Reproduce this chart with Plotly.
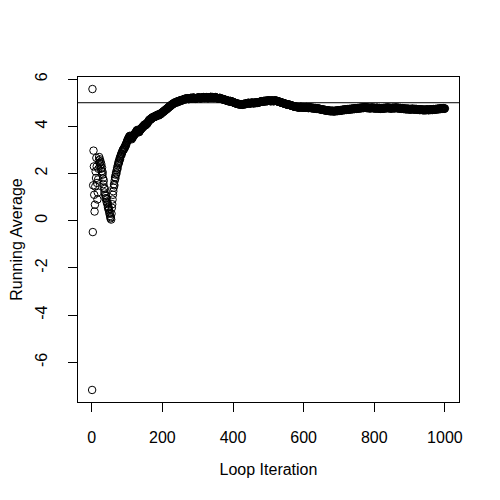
import plotly.graph_objects as go

running_avg = [
    -7.17, 5.58, -0.48, 1.50, 2.97, 2.30, 1.10, 0.39, 0.68, 1.45, 2.09, 1.81, 2.66, 2.30, 1.60, 0.90, 1.20, 1.75, 2.20, 2.55,
    2.70, 2.45, 2.60, 2.35, 2.50, 2.20, 2.40, 2.10, 2.25, 1.95, 2.05, 1.80, 1.55, 1.70, 1.40, 1.20, 1.35, 1.10, 0.95, 1.05,
    0.95, 0.80, 0.90, 0.70, 0.75, 0.55, 0.60, 0.45, 0.50, 0.30, 0.35, 0.20, 0.10, 0.15, 0.05, 0.30, 0.55, 0.70, 0.90, 1.10,
    1.25, 1.40, 1.55, 1.50, 1.70, 1.85, 1.80, 1.95, 2.05, 2.00, 2.15, 2.25, 2.20, 2.35, 2.40, 2.50, 2.45, 2.55, 2.65, 2.60,
    2.70, 2.75, 2.80, 2.85, 2.82, 2.90, 2.95, 3.00, 2.98, 3.05, 3.02, 3.08, 3.12, 3.10, 3.18, 3.22, 3.20, 3.28, 3.32, 3.35,
    3.40, 3.45, 3.42, 3.50, 3.52, 3.57, 3.55, 3.60, 3.58, 3.52, 3.48, 3.50, 3.45, 3.50, 3.55, 3.52, 3.58, 3.62, 3.60, 3.66,
    3.64, 3.70, 3.68, 3.74, 3.72, 3.78, 3.82, 3.80, 3.85, 3.83, 3.80, 3.76, 3.79, 3.75, 3.78, 3.82, 3.86, 3.84, 3.90, 3.88,
    3.92, 3.95, 3.93, 3.98, 4.00, 3.97, 4.02, 4.05, 4.03, 4.08, 4.06, 4.04, 4.09, 4.07, 4.12, 4.10, 4.15, 4.13, 4.18, 4.20,
    4.22, 4.25, 4.28, 4.26, 4.30, 4.28, 4.32, 4.30, 4.34, 4.36, 4.34, 4.38, 4.37, 4.40, 4.38, 4.41, 4.39, 4.42, 4.40, 4.43,
    4.42, 4.45, 4.44, 4.47, 4.46, 4.49, 4.47, 4.50, 4.48, 4.46, 4.49, 4.52, 4.50, 4.53, 4.51, 4.55, 4.54, 4.57, 4.59, 4.58,
    4.60, 4.62, 4.61, 4.64, 4.66, 4.65, 4.68, 4.67, 4.70, 4.72, 4.71, 4.74, 4.73, 4.76, 4.78, 4.77, 4.80, 4.82, 4.81, 4.84,
    4.86, 4.85, 4.88, 4.87, 4.90, 4.92, 4.91, 4.94, 4.93, 4.95, 4.97, 4.96, 4.99, 4.98, 5.00, 5.02, 5.01, 4.99, 5.01, 5.03,
    5.05, 5.04, 5.06, 5.05, 5.03, 5.05, 5.07, 5.06, 5.08, 5.10, 5.09, 5.11, 5.10, 5.08, 5.10, 5.12, 5.11, 5.13, 5.12, 5.14,
    5.15, 5.13, 5.15, 5.17, 5.16, 5.18, 5.17, 5.15, 5.16, 5.18, 5.17, 5.19, 5.18, 5.16, 5.15, 5.17, 5.19, 5.18, 5.20, 5.19,
    5.21, 5.20, 5.18, 5.17, 5.19, 5.21, 5.20, 5.22, 5.21, 5.19, 5.18, 5.20, 5.19, 5.17, 5.16, 5.18, 5.20, 5.19, 5.21, 5.20,
    5.22, 5.21, 5.23, 5.22, 5.20, 5.19, 5.21, 5.20, 5.18, 5.19, 5.21, 5.22, 5.21, 5.23, 5.22, 5.24, 5.23, 5.21, 5.20, 5.22,
    5.21, 5.23, 5.22, 5.24, 5.23, 5.21, 5.22, 5.20, 5.19, 5.21, 5.20, 5.22, 5.21, 5.23, 5.22, 5.24, 5.25, 5.24, 5.22, 5.23,
    5.22, 5.24, 5.23, 5.21, 5.22, 5.20, 5.21, 5.23, 5.22, 5.24, 5.23, 5.22, 5.20, 5.21, 5.19, 5.20, 5.18, 5.19, 5.17, 5.18,
    5.19, 5.20, 5.21, 5.19, 5.18, 5.16, 5.17, 5.15, 5.16, 5.14, 5.15, 5.16, 5.14, 5.13, 5.14, 5.12, 5.13, 5.11, 5.12, 5.10,
    5.11, 5.09, 5.10, 5.08, 5.09, 5.07, 5.08, 5.06, 5.07, 5.05, 5.06, 5.08, 5.07, 5.05, 5.04, 5.06, 5.05, 5.03, 5.04, 5.02,
    5.03, 5.01, 5.00, 4.99, 5.00, 4.98, 4.99, 4.97, 4.98, 4.96, 4.97, 4.95, 4.96, 4.94, 4.95, 4.93, 4.94, 4.95, 4.93, 4.94,
    4.92, 4.93, 4.94, 4.92, 4.93, 4.91, 4.92, 4.94, 4.93, 4.95, 4.94, 4.96, 4.95, 4.93, 4.94, 4.96, 4.95, 4.97, 4.96, 4.98,
    4.97, 4.99, 4.98, 5.00, 4.99, 4.97, 4.98, 4.96, 4.97, 4.99, 4.98, 5.00, 4.99, 5.01, 5.00, 4.98, 4.99, 4.97, 4.98, 5.00,
    4.99, 5.01, 5.00, 4.98, 4.99, 5.01, 5.00, 5.02, 5.01, 4.99, 5.00, 5.02, 5.01, 5.03, 5.02, 5.04, 5.03, 5.05, 5.04, 5.06,
    5.05, 5.07, 5.06, 5.04, 5.05, 5.07, 5.06, 5.08, 5.07, 5.05, 5.06, 5.08, 5.07, 5.09, 5.08, 5.06, 5.07, 5.09, 5.08, 5.10,
    5.09, 5.08, 5.10, 5.09, 5.07, 5.08, 5.06, 5.07, 5.09, 5.08, 5.10, 5.09, 5.07, 5.08, 5.06, 5.07, 5.09, 5.08, 5.10, 5.09,
    5.08, 5.09, 5.07, 5.08, 5.06, 5.07, 5.05, 5.06, 5.04, 5.05, 5.03, 5.04, 5.02, 5.03, 5.01, 5.02, 5.00, 5.01, 4.99, 5.00,
    4.98, 4.99, 4.97, 4.98, 4.96, 4.97, 4.95, 4.96, 4.94, 4.95, 4.93, 4.94, 4.92, 4.93, 4.91, 4.92, 4.93, 4.91, 4.92, 4.90,
    4.91, 4.89, 4.90, 4.88, 4.89, 4.87, 4.88, 4.86, 4.87, 4.85, 4.86, 4.84, 4.85, 4.83, 4.84, 4.82, 4.83, 4.84, 4.82, 4.83,
    4.81, 4.82, 4.80, 4.81, 4.82, 4.80, 4.81, 4.79, 4.80, 4.82, 4.81, 4.83, 4.82, 4.80, 4.81, 4.79, 4.80, 4.82, 4.81, 4.80,
    4.81, 4.79, 4.80, 4.78, 4.79, 4.81, 4.80, 4.82, 4.81, 4.79, 4.80, 4.78, 4.79, 4.77, 4.78, 4.80, 4.79, 4.81, 4.80, 4.78,
    4.79, 4.77, 4.78, 4.76, 4.77, 4.79, 4.78, 4.76, 4.77, 4.75, 4.76, 4.78, 4.77, 4.75, 4.76, 4.74, 4.75, 4.77, 4.76, 4.74,
    4.75, 4.73, 4.74, 4.75, 4.73, 4.74, 4.72, 4.73, 4.71, 4.72, 4.70, 4.71, 4.72, 4.70, 4.71, 4.69, 4.70, 4.68, 4.69, 4.70,
    4.68, 4.69, 4.67, 4.68, 4.66, 4.67, 4.68, 4.66, 4.67, 4.65, 4.66, 4.67, 4.65, 4.66, 4.64, 4.65, 4.66, 4.64, 4.65, 4.66,
    4.64, 4.65, 4.66, 4.64, 4.65, 4.63, 4.64, 4.65, 4.66, 4.64, 4.65, 4.67, 4.66, 4.64, 4.65, 4.67, 4.66, 4.68, 4.67, 4.65,
    4.66, 4.68, 4.67, 4.69, 4.68, 4.66, 4.67, 4.69, 4.68, 4.70, 4.69, 4.71, 4.70, 4.68, 4.69, 4.71, 4.70, 4.72, 4.71, 4.69,
    4.70, 4.72, 4.71, 4.73, 4.72, 4.70, 4.71, 4.73, 4.72, 4.74, 4.73, 4.71, 4.72, 4.74, 4.73, 4.75, 4.74, 4.72, 4.73, 4.75,
    4.74, 4.76, 4.75, 4.73, 4.74, 4.76, 4.75, 4.77, 4.76, 4.74, 4.75, 4.77, 4.76, 4.78, 4.77, 4.75, 4.76, 4.78, 4.77, 4.79,
    4.78, 4.76, 4.77, 4.79, 4.78, 4.80, 4.79, 4.77, 4.78, 4.80, 4.79, 4.81, 4.80, 4.78, 4.79, 4.81, 4.80, 4.78, 4.79, 4.77,
    4.78, 4.80, 4.79, 4.77, 4.78, 4.76, 4.77, 4.79, 4.78, 4.76, 4.77, 4.79, 4.78, 4.80, 4.79, 4.77, 4.78, 4.76, 4.77, 4.79,
    4.78, 4.76, 4.77, 4.75, 4.76, 4.78, 4.77, 4.79, 4.78, 4.76, 4.77, 4.75, 4.76, 4.78, 4.77, 4.75, 4.76, 4.74, 4.75, 4.77,
    4.76, 4.74, 4.75, 4.77, 4.76, 4.78, 4.77, 4.75, 4.76, 4.78, 4.77, 4.79, 4.78, 4.76, 4.77, 4.79, 4.78, 4.80, 4.79, 4.77,
    4.78, 4.76, 4.77, 4.79, 4.78, 4.76, 4.77, 4.75, 4.76, 4.78, 4.77, 4.79, 4.78, 4.76, 4.77, 4.79, 4.78, 4.76, 4.77, 4.79,
    4.78, 4.80, 4.79, 4.77, 4.78, 4.76, 4.77, 4.79, 4.78, 4.76, 4.77, 4.75, 4.76, 4.78, 4.77, 4.75, 4.76, 4.74, 4.75, 4.77,
    4.76, 4.74, 4.75, 4.73, 4.74, 4.76, 4.75, 4.73, 4.74, 4.72, 4.73, 4.75, 4.74, 4.72, 4.73, 4.75, 4.74, 4.72, 4.73, 4.71,
    4.72, 4.74, 4.73, 4.71, 4.72, 4.74, 4.73, 4.75, 4.74, 4.72, 4.73, 4.71, 4.72, 4.74, 4.73, 4.71, 4.72, 4.74, 4.73, 4.71,
    4.72, 4.70, 4.71, 4.73, 4.72, 4.70, 4.71, 4.69, 4.70, 4.72, 4.71, 4.69, 4.70, 4.72, 4.71, 4.69, 4.70, 4.68, 4.69, 4.71,
    4.70, 4.68, 4.69, 4.71, 4.70, 4.68, 4.69, 4.71, 4.70, 4.72, 4.71, 4.69, 4.70, 4.68, 4.69, 4.71, 4.70, 4.72, 4.71, 4.69,
    4.70, 4.72, 4.71, 4.69, 4.70, 4.72, 4.71, 4.73, 4.72, 4.70, 4.71, 4.73, 4.72, 4.74, 4.73, 4.71, 4.72, 4.74, 4.73, 4.75,
    4.74, 4.72, 4.73, 4.75, 4.74, 4.76, 4.75, 4.73, 4.74, 4.76, 4.75, 4.77, 4.76, 4.74, 4.75, 4.77, 4.76, 4.74, 4.75, 4.76,
]
iterations = list(range(1, len(running_avg) + 1))
target_value = 5
x_ticks = [0, 200, 400, 600, 800, 1000]
y_ticks = [-6, -4, -2, 0, 2, 4, 6]
x_label = "Loop Iteration"
y_label = "Running Average"

# R-style 4% axis expansion
xmin, xmax = min(iterations), max(iterations)
ymin, ymax = min(running_avg), max(running_avg)
xpad = 0.04 * (xmax - xmin)
ypad = 0.04 * (ymax - ymin)

font = dict(family="Liberation Sans, Arial, sans-serif", size=16, color="black")

fig = go.Figure()
fig.add_trace(go.Scatter(
    x=iterations, y=running_avg, mode="markers",
    marker=dict(symbol="circle-open", size=7.5, color="black", line=dict(width=1, color="black")),
    showlegend=False, hoverinfo="skip",
))
fig.add_shape(type="line", xref="paper", x0=0, x1=1, yref="y", y0=target_value, y1=target_value,
              line=dict(color="black", width=1))

fig.update_layout(
    width=500, height=500,
    margin=dict(l=70, r=49, t=69, b=106, autoexpand=False),
    paper_bgcolor="white", plot_bgcolor="white",
    font=font,
)
fig.update_xaxes(
    range=[xmin - xpad, xmax + xpad], tickvals=x_ticks, ticktext=[str(v) for v in x_ticks],
    showline=True, mirror=True, linecolor="black", linewidth=1,
    ticks="outside", ticklen=9, tickcolor="black", tickwidth=1,
    ticklabelstandoff=12,
    showgrid=False, zeroline=False, automargin=False,
    title=dict(text=x_label, standoff=18, font=font),
)
fig.update_yaxes(
    range=[ymin - ypad, ymax + ypad], tickvals=y_ticks, ticktext=[str(v) for v in y_ticks],
    tickangle=-90, ticklabelstandoff=15,
    showline=True, mirror=True, linecolor="black", linewidth=1,
    ticks="outside", ticklen=9, tickcolor="black", tickwidth=1,
    showgrid=False, zeroline=False, automargin=False,
    title=dict(text=y_label, standoff=12, font=font),
)

fig.write_html("out.html")
